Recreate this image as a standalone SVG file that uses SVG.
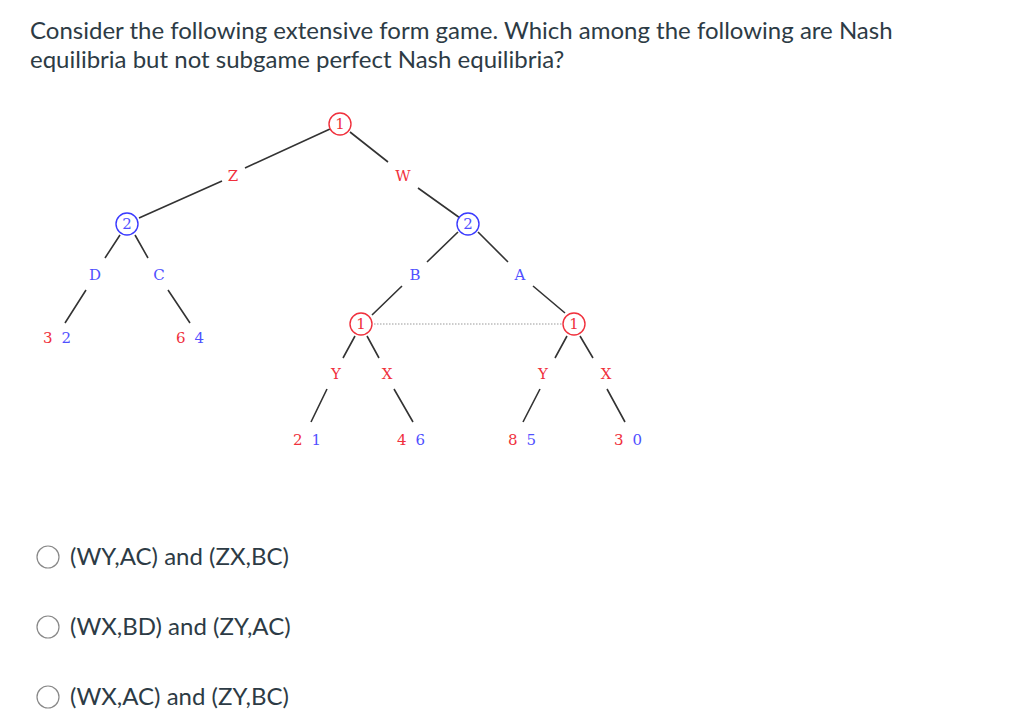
<svg xmlns="http://www.w3.org/2000/svg" width="1019" height="722" viewBox="0 0 1019 722">
<style>
.q{font-family:Lato,"Open Sans",sans-serif;font-size:24px;fill:#2d3b45}
.o{font-family:Lato,"Open Sans",sans-serif;font-size:24px;fill:#2d3b45}
.e{stroke:#333;stroke-width:1.6;fill:none}
.r{fill:#fff;stroke:#f0303c;stroke-width:1.4}
.b{fill:#fff;stroke:#3a3aff;stroke-width:1.4}
.t{font-family:"DejaVu Serif","Liberation Serif",serif;font-size:15px;text-anchor:middle}
.rt{fill:#f0303c}.bt{fill:#5050ff}
.rad{fill:#fff;stroke:#888;stroke-width:1.2}
</style>
<rect width="1019" height="722" fill="#fff"/>
<text class="q" x="30" y="39">Consider the following extensive form game. Which among the following are Nash</text>
<text class="q" x="30" y="68">equilibria but not subgame perfect Nash equilibria?</text>
<g id="connectors">
<path class="e" d="M330,129L245,168M222,181L139,218M350,132L388,162M418,188L460,218"/>
<path class="e" d="M120,235L105,258M135,235L148,258M86,290L65,323M168,290L190,323"/>
<path class="e" d="M458,232L427,262M478,232L508,262M402,286L372,315M533,286L565,313"/>
<path class="e" d="M355,336L343,358M367,336L379,358M327,389L311,422M394,389L413,422"/>
<path class="e" d="M567,336L555,358M580,336L593,358M540,389L523,422M607,389L625,422"/>
<line x1="374" y1="324" x2="562" y2="324" stroke="#999" stroke-width="1" stroke-dasharray="1.5,1.5"/>
</g>
<g id="labels" class="t">
<text class="rt" x="233" y="181">Z</text><text class="rt" x="403" y="181">W</text>
<text class="bt" x="95" y="280">D</text><text class="bt" x="159" y="280">C</text>
<text class="bt" x="415" y="280">B</text><text class="bt" x="520" y="280">A</text>
<text class="rt" x="336" y="379">Y</text><text class="rt" x="387" y="379">X</text>
<text class="rt" x="543" y="379">Y</text><text class="rt" x="606" y="379">X</text>
</g>
<g id="payoffs" class="t">
<text x="57" y="343"><tspan class="rt">3</tspan><tspan class="bt" dx="9">2</tspan></text>
<text x="190" y="343"><tspan class="rt">6</tspan><tspan class="bt" dx="9">4</tspan></text>
<text x="307" y="445"><tspan class="rt">2</tspan><tspan class="bt" dx="9">1</tspan></text>
<text x="411" y="445"><tspan class="rt">4</tspan><tspan class="bt" dx="9">6</tspan></text>
<text x="522" y="445"><tspan class="rt">8</tspan><tspan class="bt" dx="9">5</tspan></text>
<text x="628" y="445"><tspan class="rt">3</tspan><tspan class="bt" dx="9">0</tspan></text>
</g>
<g id="n_root"><circle class="r" cx="340" cy="124" r="11"/><text class="t rt" x="340" y="129">1</text></g>
<g id="n_left2"><circle class="b" cx="127" cy="224" r="11"/><text class="t bt" x="127" y="229">2</text></g>
<g id="n_right2"><circle class="b" cx="468" cy="224" r="11"/><text class="t bt" x="468" y="229">2</text></g>
<g id="n_1a"><circle class="r" cx="361" cy="324" r="11"/><text class="t rt" x="361" y="329">1</text></g>
<g id="n_1b"><circle class="r" cx="574" cy="324" r="11"/><text class="t rt" x="574" y="329">1</text></g>
<g id="options">
<circle class="rad" cx="48" cy="557" r="11"/><text class="o" x="70" y="565">(WY,AC) and (ZX,BC)</text>
<circle class="rad" cx="48" cy="627" r="11"/><text class="o" x="70" y="635">(WX,BD) and (ZY,AC)</text>
<circle class="rad" cx="48" cy="697" r="11"/><text class="o" x="70" y="705">(WX,AC) and (ZY,BC)</text>
</g>
</svg>
